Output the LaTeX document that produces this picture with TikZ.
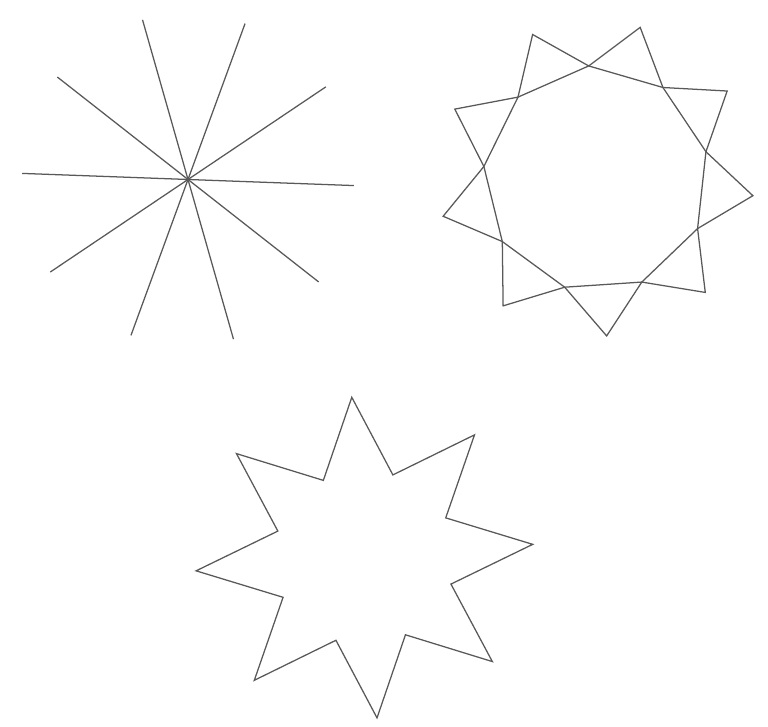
\documentclass[tikz,border=0pt]{standalone}
\begin{document}
\begin{tikzpicture}[x=0.025cm,y=0.025cm,line width=0.9pt,black!65]
\useasboundingbox (0,0) rectangle (768,727);

	\foreach \k in {0,...,4}
	\draw [shift={(188,547.5)}] (-2.1+36*\k:166) -- (177.9+36*\k:166);

	\def\N{9}
	\begin{scope}[shift={(596.2,548.3)}]
	\draw (-6.2:157.6) \foreach \k in {1,...,8} 
	{ -- (-26.2+40*\k:113) -- (-6.2+40*\k:157.6) } -- (-26.2:113) -- cycle;
	\draw (13.8:113) \foreach \k in {1,...,8} { -- (13.8+40*\k:113) } -- cycle;
	\end{scope}

	\begin{scope}[shift={(364.4,169.4)},rotate=4.5,xscale=1.05]
	\draw (0:160.8) \foreach \k in {1,...,7} 
	{ -- (45*\k-22.5:86.8) -- (45*\k:160.8) } -- (-22.5:86.8) -- cycle;
	\end{scope}

\end{tikzpicture}
\end{document}
